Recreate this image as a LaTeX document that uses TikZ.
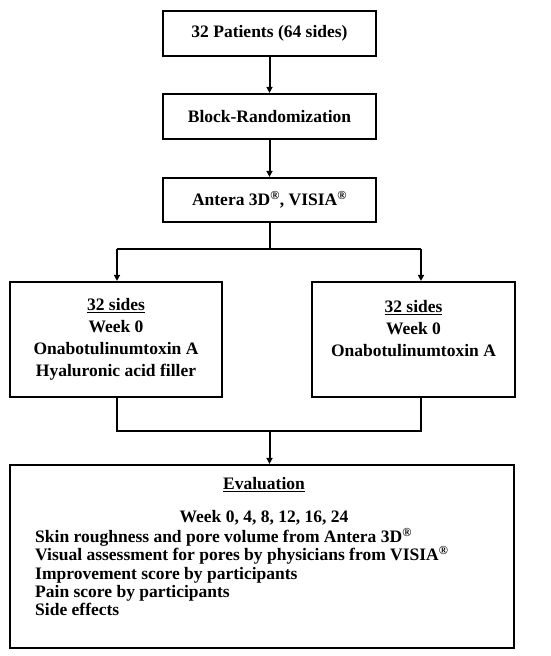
\documentclass[tikz,border=0pt]{standalone}
\usepackage{fontspec}
\setmainfont{Liberation Serif}
\usetikzlibrary{arrows.meta}
\begin{document}
\begin{tikzpicture}[x=1pt,y=1pt,
  box/.style={draw,line width=2.2pt,rectangle,inner sep=0pt,font=\fontsize{17.5}{22}\selectfont\bfseries,align=center},
  conn/.style={line width=2pt},
  arr/.style={conn,-{Triangle[length=6pt,width=6pt]}},
  txt/.style={font=\fontsize{17.5}{18.3}\selectfont\bfseries,inner sep=0pt}]
\useasboundingbox (0,0) rectangle (550,-656);
\node[box,minimum width=213pt,minimum height=45pt] (p) at (269.5,-33.5) {32 Patients (64 sides)};
\node[box,minimum width=213pt,minimum height=45pt] (r) at (269.5,-116.5) {Block-Randomization};
\node[box,minimum width=213pt,minimum height=44pt] (a) at (269.5,-200) {Antera 3D\textsuperscript{®}, VISIA\textsuperscript{®}};
\node[box,minimum width=212pt,minimum height=115pt] (l) at (116,-339.5) {\underline{32 sides}\\Week 0\\Onabotulinumtoxin A\\Hyaluronic acid filler};
\node[box,minimum width=203pt,minimum height=115pt] (rt) at (413.5,-339.5) {\underline{32 sides}\\Week 0\\Onabotulinumtoxin A\\\mbox{}};
\node[box,minimum width=504pt,minimum height=183pt] (e) at (262,-556.5) {};
\node[txt] (et) at (264,-485) {\underline{Evaluation}};
\node[txt] (wk) at (264,-518) {Week 0, 4, 8, 12, 16, 24};
\node[txt,anchor=north west,align=left] (list) at (35,-528) {Skin roughness and pore volume from Antera 3D\textsuperscript{®}\\
Visual assessment for pores by physicians from VISIA\textsuperscript{®}\\
Improvement score by participants\\
Pain score by participants\\
Side effects};
\coordinate (j1) at (269.5,-249);
\coordinate (jl) at (117,-249);
\coordinate (jr) at (421,-249);
\coordinate (kl) at (117,-431);
\coordinate (kr) at (421,-431);
\coordinate (k) at (269.5,-431);
\draw[arr] (p) -- (r);
\draw[arr] (r) -- (a);
\draw[conn] (a) -- (j1);
\draw[conn] (jl) -- (jr);
\draw[arr] (jl) -- (jl |- l.north);
\draw[arr] (jr) -- (jr |- rt.north);
\draw[conn] (kl |- l.south) -- (kl) -- (kr) -- (kr |- rt.south);
\draw[arr] (k) -- (k |- e.north);
\end{tikzpicture}
\end{document}
